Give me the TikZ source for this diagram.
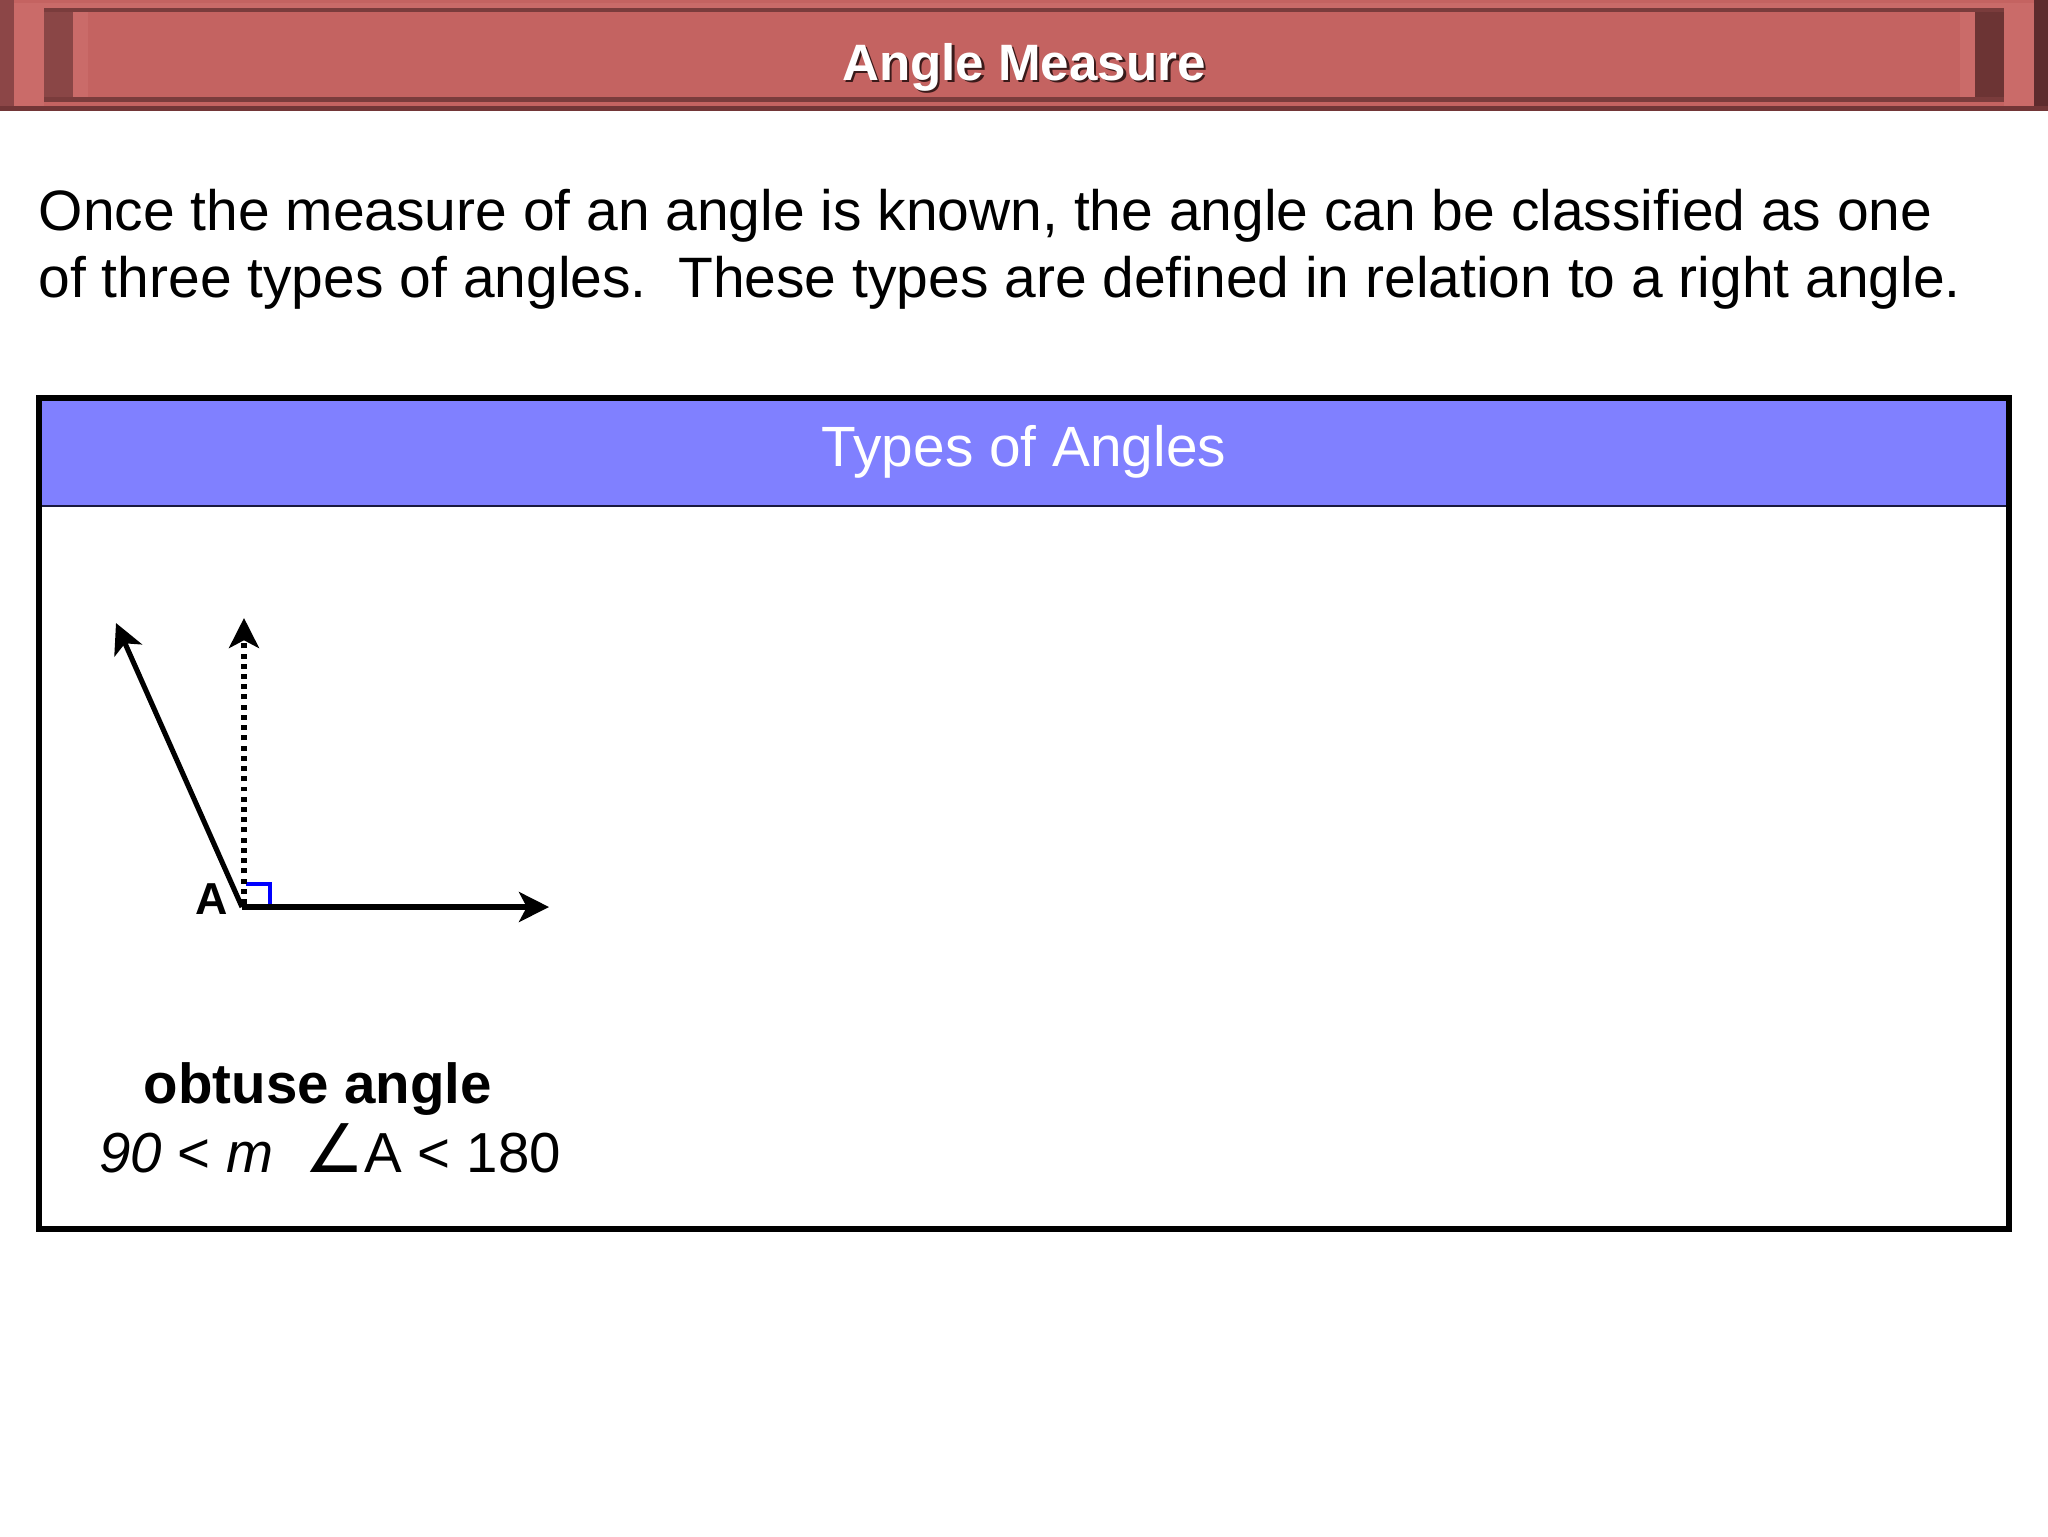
\documentclass[tikz,border=0pt]{standalone}
\usepackage{fontspec}
\setmainfont{Liberation Sans}
\newfontfamily\dejavu{DejaVu Sans}
\usetikzlibrary{arrows.meta}
\definecolor{hdrmain}{HTML}{C46361}
\definecolor{hdrlight}{HTML}{CA6B69}
\definecolor{hdrdarkL}{HTML}{8C4647}
\definecolor{hdrdarkR}{HTML}{5E2B2D}
\definecolor{hdrmidL}{HTML}{8A4646}
\definecolor{hdrmidR}{HTML}{6C3434}
\definecolor{hdrline}{HTML}{7A3C3C}
\definecolor{bandblue}{HTML}{8080FF}
\definecolor{bandline}{HTML}{1A1A40}
\definecolor{shadowc}{HTML}{3A1A1A}
\tikzset{
  ray/.style={line width=1.45pt, -{Stealth[length=8.5pt, width=8.5pt, inset=2.2pt]}},
  dotray/.style={ray, dash pattern=on 1.4pt off 1.5pt},
  bodytext/.style={anchor=base west, inner sep=0pt, font=\fontsize{16.15}{19}\selectfont},
}
\begin{document}
\begin{tikzpicture}[x=0.2835pt, y=-0.2835pt]
\useasboundingbox (0,0) rectangle (2048,1536);
\fill[white] (0,0) rectangle (2048,1536);
% header
\fill[hdrmain] (0,0) rectangle (2048,111);
\fill[hdrlight] (0,3) rectangle (2048,10);
\fill[hdrdarkL] (0,0) rectangle (14,111);
\fill[hdrdarkR] (2034,0) rectangle (2048,111);
\fill[hdrlight] (14,3) rectangle (44,106);
\fill[hdrlight] (2004,3) rectangle (2034,106);
\fill[hdrmidL] (44,8) rectangle (73,102);
\fill[hdrmidR] (1975,8) rectangle (2004,102);
\fill[hdrline] (44,8) rectangle (2004,12);
\fill[hdrline] (44,97) rectangle (2004,102);
\fill[hdrlight] (73,12) rectangle (88,97);
\fill[hdrlight] (1960,12) rectangle (1975,97);
\fill[hdrdarkR!80!hdrmain] (0,106) rectangle (2048,111);
\node[anchor=base, inner sep=0pt, text=shadowc, font=\fontsize{14.5}{17}\selectfont\bfseries] (titleshadow) at (1026.5,82.5) {Angle Measure};
\node[anchor=base, inner sep=0pt, text=white, font=\fontsize{14.5}{17}\selectfont\bfseries] (title) at (1024,80) {Angle Measure};
% body text
\node[bodytext] (line1) at (38,230) {Once the measure of an angle is known, the angle can be classified as one};
\node[bodytext] (line2) at (38,297) {of three types of angles.\ \ These types are defined in relation to a right angle.};
% box
\fill[bandblue] (39,398) rectangle (2009,506);
\draw[bandline, line width=0.6pt] (39,506) -- (2009,506);
\draw[line width=1.7pt] (39,398) rectangle (2009,1229);
\node[anchor=base, inner sep=0pt, text=white, font=\fontsize{16.1}{19}\selectfont] (band) at (1024,466) {Types of Angles};
% angle figure
\coordinate (A) at (242,907);
\coordinate (tipH) at (549,907);
\coordinate (tipV) at (244,618);
\coordinate (tipO) at (116,623);
\draw[blue, line width=1.1pt] (246,884) -- (270,884) -- (270,905);
\draw[dotray] (244,904) -- (tipV);
\draw[ray] (A) -- (tipH);
\draw[ray] (A) -- (tipO);
\node[inner sep=0pt, font=\fontsize{12.7}{15}\selectfont\bfseries] (labA) at (211.5,899) {A};
% labels
\node[anchor=base, inner sep=0pt, font=\fontsize{16}{19}\selectfont\bfseries] (name) at (318,1103) {obtuse angle};
\node[anchor=base, inner sep=0pt, font=\fontsize{16}{19}\selectfont] (formula) at (330,1172) {\itshape 90\upshape{} < \itshape m\upshape\ \ {\dejavu\fontsize{19}{19}\selectfont ∠}A < 180};
\end{tikzpicture}
\end{document}
